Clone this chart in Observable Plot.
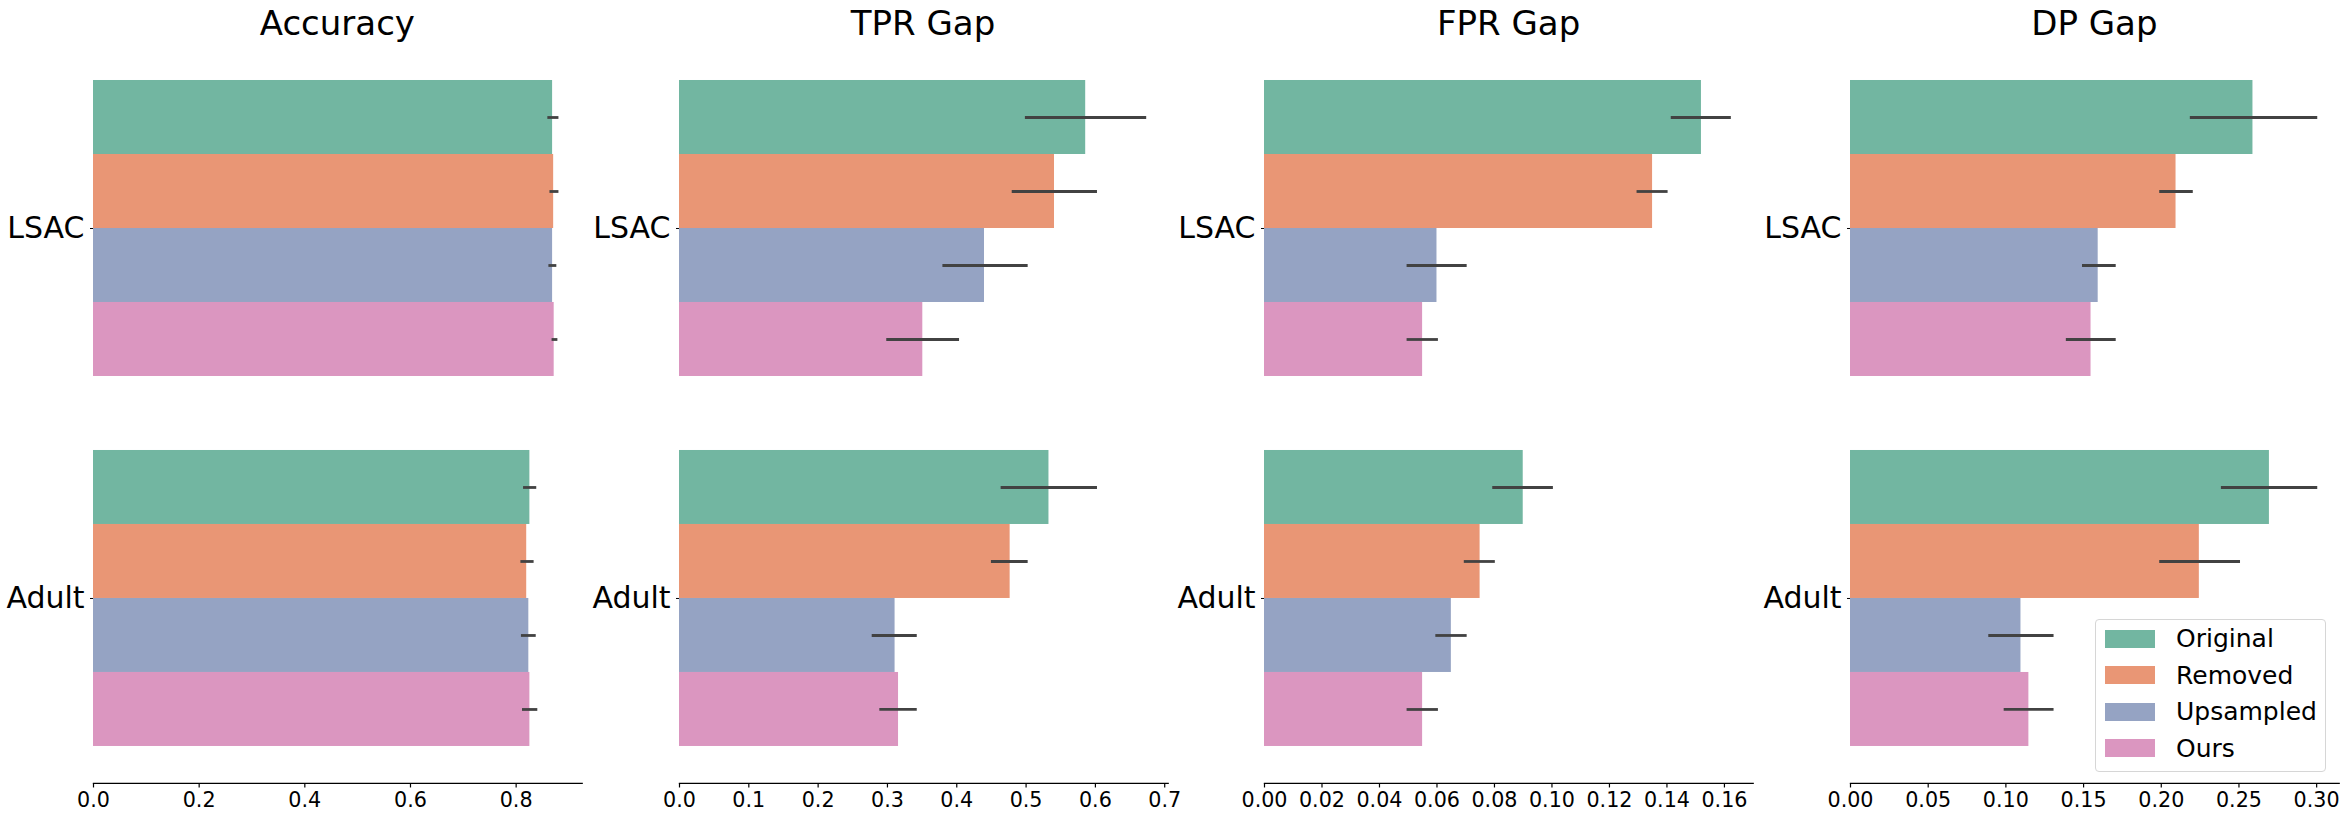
<!DOCTYPE html>
<html>
<head>
<meta charset="utf-8">
<script src="https://cdn.jsdelivr.net/npm/d3@7"></script>
<script src="https://cdn.jsdelivr.net/npm/@observablehq/plot@0.6"></script>
<style>
  html, body { margin: 0; padding: 0; background: #fff; }
  #root { position: relative; width: 2346px; height: 818px; font-family: "DejaVu Sans", sans-serif; overflow: hidden; }
  .panel { position: absolute; top: 0; }
  .panel svg { overflow: visible; }
  .panel svg g[aria-label="x-axis tick label"] { font-size: 20.7px; }
  .panel svg g[aria-label="fy-axis tick label"] { font-size: 30px; }
  .title { position: absolute; top: 5.5px; font-size: 34px; line-height: 34px; text-align: center; color: #000; white-space: nowrap; }
  .legend { position: absolute; box-sizing: border-box; border: 1.3px solid #d6d6d6; border-radius: 4px; background: rgba(255,255,255,0.8); }
  .legend .row { position: absolute; left: 0; height: 36.4px; display: flex; align-items: center; font-size: 25px; color: #000; white-space: nowrap; }
  .legend .sw { width: 50px; height: 18px; margin-left: 9.5px; margin-right: 21px; }
</style>
</head>
<body>
<div id="root"></div>
<script>
// ---- data ----
const datasets = ["LSAC", "Adult"];
const methods = ["Original", "Removed", "Upsampled", "Ours"];
const colors = ["#72b6a1", "#e99675", "#95a3c3", "#db96c0"];
const metrics = ["Accuracy", "TPR Gap", "FPR Gap", "DP Gap"];

// order: LSAC (Original, Removed, Upsampled, Ours), Adult (Original, Removed, Upsampled, Ours)
const accuracyMean = [0.869, 0.871, 0.869, 0.872, 0.826, 0.820, 0.824, 0.826];
const accuracyLow  = [0.860, 0.864, 0.862, 0.868, 0.814, 0.809, 0.810, 0.812];
const accuracyHigh = [0.881, 0.881, 0.877, 0.879, 0.839, 0.834, 0.838, 0.841];

const tprMean = [0.586, 0.541, 0.440, 0.351, 0.533, 0.477, 0.311, 0.316];
const tprLow  = [0.499, 0.480, 0.380, 0.299, 0.464, 0.450, 0.278, 0.289];
const tprHigh = [0.674, 0.603, 0.503, 0.404, 0.603, 0.503, 0.343, 0.343];

const fprMean = [0.152, 0.135, 0.060, 0.055, 0.090, 0.075, 0.065, 0.055];
const fprLow  = [0.1415, 0.1296, 0.0496, 0.0496, 0.0794, 0.0695, 0.0596, 0.0496];
const fprHigh = [0.1624, 0.1404, 0.0705, 0.0605, 0.1005, 0.0803, 0.0705, 0.0605];

const dpMean = [0.259, 0.2095, 0.1594, 0.1548, 0.2696, 0.2245, 0.1097, 0.1148];
const dpLow  = [0.2187, 0.199, 0.1493, 0.1389, 0.2387, 0.199, 0.089, 0.0989];
const dpHigh = [0.3007, 0.2206, 0.171, 0.171, 0.3007, 0.251, 0.131, 0.131];

const accuracyTicks = [0, 0.2, 0.4, 0.6, 0.8];
const tprTicks = [0, 0.1, 0.2, 0.3, 0.4, 0.5, 0.6, 0.7];
const fprTicks = [0, 0.02, 0.04, 0.06, 0.08, 0.10, 0.12, 0.14, 0.16];
const dpTicks = [0, 0.05, 0.10, 0.15, 0.20, 0.25, 0.30];

const axisMax = [0.925, 0.705, 0.170, 0.3145];
const tickFormats = [".1f", ".1f", ".2f", ".2f"];

// ---- build ----
const series = [
  [accuracyMean, accuracyLow, accuracyHigh, accuracyTicks],
  [tprMean, tprLow, tprHigh, tprTicks],
  [fprMean, fprLow, fprHigh, fprTicks],
  [dpMean, dpLow, dpHigh, dpTicks]
];

function rowsOf(mean, lo, hi) {
  return mean.map((v, i) => ({
    dataset: datasets[Math.floor(i / methods.length)],
    method: methods[i % methods.length],
    value: v, lo: lo[i], hi: hi[i]
  }));
}

const root = document.getElementById("root");
const panelStep = 585.67;
const mLeft = 93, plotW = 488.7, mRight = 4;

series.forEach(([mean, lo, hi, ticks], k) => {
  const rows = rowsOf(mean, lo, hi);
  const fmt = d3.format(tickFormats[k]);
  const chart = Plot.plot({
    width: mLeft + plotW + mRight,
    height: 818,
    marginLeft: mLeft,
    marginRight: mRight,
    marginTop: 42,
    marginBottom: 35,
    style: { fontFamily: "DejaVu Sans", fontSize: "20.7px", color: "#000", background: "transparent", overflow: "visible" },
    x: { domain: [0, axisMax[k]], axis: null },
    y: { domain: methods, axis: null, paddingInner: 0, paddingOuter: 0.5 },
    fy: { domain: datasets, padding: 0, axis: null },
    color: { domain: methods, range: colors },
    marks: [
      Plot.barX(rows, { fy: "dataset", y: "method", x1: 0, x2: "value", fill: "method" }),
      Plot.ruleY(rows, { fy: "dataset", y: "method", x1: "lo", x2: "hi", stroke: "#424242", strokeWidth: 2.8 }),
      Plot.frame({ anchor: "bottom", facetAnchor: "bottom", stroke: "#000", strokeWidth: 1.3 }),
      Plot.axisX({ anchor: "bottom", ticks: ticks, tickFormat: fmt, tickSize: 4.5, tickPadding: 4, fontSize: 20.7, strokeWidth: 1.2 }),
      Plot.axisFy({ anchor: "left", tickSize: 3, tickPadding: 6, fontSize: 30, label: null })
    ]
  });
  const div = document.createElement("div");
  div.className = "panel";
  div.style.left = (panelStep * k) + "px";
  div.appendChild(chart);
  root.appendChild(div);

  const t = document.createElement("div");
  t.className = "title";
  t.style.left = (panelStep * k + mLeft) + "px";
  t.style.width = plotW + "px";
  t.textContent = metrics[k];
  root.appendChild(t);
});

// legend (in the last panel)
const lg = document.createElement("div");
lg.className = "legend";
lg.style.left = "2094.5px";
lg.style.top = "618.7px";
lg.style.width = "231px";
lg.style.height = "153px";
methods.forEach((m, i) => {
  const r = document.createElement("div");
  r.className = "row";
  r.style.top = (1.1 + i * 36.4) + "px";
  const sw = document.createElement("div");
  sw.className = "sw";
  sw.style.background = colors[i];
  const tx = document.createElement("span");
  tx.textContent = m;
  r.appendChild(sw);
  r.appendChild(tx);
  lg.appendChild(r);
});
root.appendChild(lg);
</script>
</body>
</html>
